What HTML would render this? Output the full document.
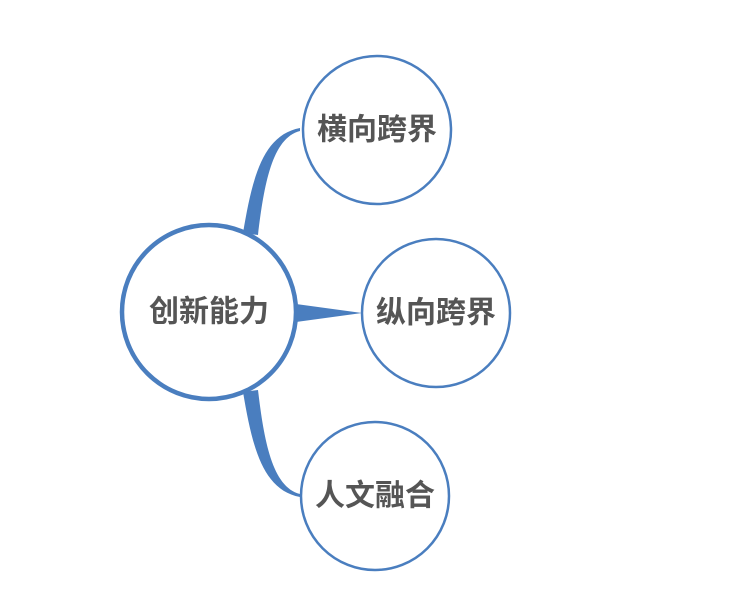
<!DOCTYPE html>
<html><head><meta charset="utf-8"><style>
html,body{margin:0;padding:0;background:#fff;}
svg text{font-family:"Liberation Sans","Noto Sans CJK SC",sans-serif;font-weight:bold;fill:#555;font-size:30px;text-anchor:middle;dominant-baseline:central;}
</style></head><body>
<svg width="738" height="602" viewBox="0 0 738 602" xmlns="http://www.w3.org/2000/svg">
<g fill="#4a7ebf">
<path d="M243,233 C252,180 262,135 300,128 L300,131 C272,138 264,185 258,235 Z"/>
<path d="M296,304 L362,313 L296,322 Z"/>
<path d="M243,392 C252,445 262,490 300,497 L300,494 C272,487 264,440 258,390 Z"/>
</g>
<g fill="#fff" stroke="#4a7ebf">
<circle cx="209" cy="312" r="87" stroke-width="4.5"/>
<circle cx="377" cy="130" r="74" stroke-width="2.5"/>
<circle cx="436" cy="313" r="74" stroke-width="2.5"/>
<circle cx="375" cy="496" r="74" stroke-width="2.5"/>
</g>
<text x="209" y="312">创新能力</text>
<text x="377" y="130">横向跨界</text>
<text x="436" y="313">纵向跨界</text>
<text x="375" y="496">人文融合</text>
</svg>
</body></html>
